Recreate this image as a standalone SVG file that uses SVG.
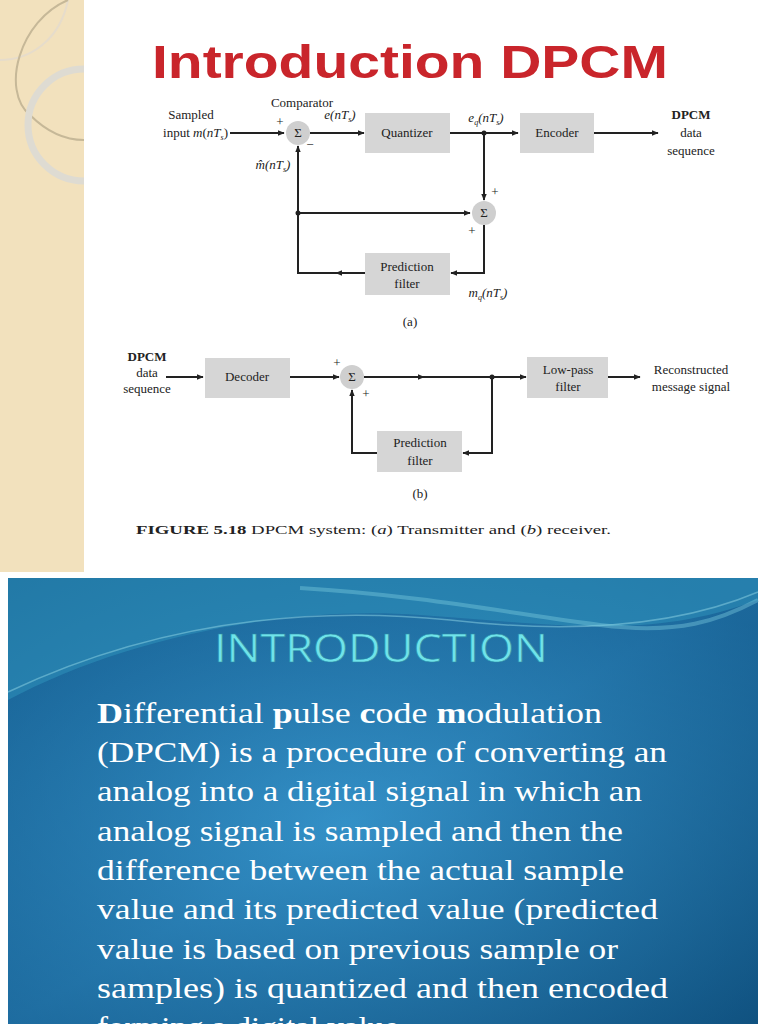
<svg xmlns="http://www.w3.org/2000/svg" width="768" height="1024" viewBox="0 0 768 1024">
<defs>
<marker id="ah" viewBox="0 0 10 10" refX="9" refY="5" markerWidth="7" markerHeight="7" orient="auto" markerUnits="userSpaceOnUse"><path d="M0,1 L10,5 L0,9 z" fill="#222"/></marker>
<linearGradient id="bg" x1="0" y1="0" x2="1" y2="1"><stop offset="0" stop-color="#1b6fa6"/><stop offset="0.5" stop-color="#2a86bf"/><stop offset="1" stop-color="#125887"/></linearGradient>
<radialGradient id="rg" cx="0.45" cy="0.55" r="0.7"><stop offset="0" stop-color="#3a97cc" stop-opacity="0.6"/><stop offset="1" stop-color="#0e4c7a" stop-opacity="0.5"/></radialGradient>
<clipPath id="strip"><rect x="0" y="0" width="84" height="572"/></clipPath>
<style>
.t{font-family:"Liberation Serif",serif;fill:#222;font-size:13px}
.c{text-anchor:middle}
.box{fill:#d6d6d6}
.sum{fill:#cfcfcf}
.ln{stroke:#222;stroke-width:2;fill:none}
.b{font-family:"Liberation Serif",serif;fill:#fff;font-size:30px}
</style>
</defs>
<rect width="768" height="1024" fill="#fff"/>
<rect x="0" y="0" width="84" height="572" fill="#f2e1bd"/>
<g fill="none" clip-path="url(#strip)">
<path d="M0,60 C30,60 60,40 68,0" stroke="#e6dccb" stroke-width="2"/>
<path d="M68,0 C20,20 0,90 30,115 C50,135 70,140 84,140" stroke="#c6b898" stroke-width="2"/>
<circle cx="84" cy="125" r="56" stroke="#dedbd2" stroke-width="7"/>
</g>
<text x="410" y="78" font-family="Liberation Sans,sans-serif" font-weight="bold" font-size="46" fill="#c9252b" class="c" textLength="516" lengthAdjust="spacingAndGlyphs">Introduction DPCM</text>

<g id="connectors-a">
<path class="ln" d="M230,133 H284" marker-end="url(#ah)"/>
<path class="ln" d="M310,133 H364" marker-end="url(#ah)"/>
<path class="ln" d="M450,133 H518" marker-end="url(#ah)"/>
<path class="ln" d="M594,133 H658" marker-end="url(#ah)"/>
<path class="ln" d="M484,133 V200" marker-end="url(#ah)"/>
<path class="ln" d="M298,213 H470" marker-end="url(#ah)"/>
<path class="ln" d="M484,225 V273 H451" marker-end="url(#ah)"/>
<path class="ln" d="M365,273 H298 V146" marker-end="url(#ah)"/>
<path class="ln" d="M345,273 H336" marker-end="url(#ah)"/>
<circle cx="484" cy="133" r="2.5" fill="#222"/>
<circle cx="298" cy="213" r="2.5" fill="#222"/>
</g>
<g id="sum1"><circle class="sum" cx="298" cy="133" r="12"/><text class="t c" x="298" y="137">Σ</text></g>
<g id="quantizer"><rect class="box" x="365" y="113" width="85" height="40"/><text class="t c" x="407" y="137">Quantizer</text></g>
<g id="encoder"><rect class="box" x="520" y="113" width="74" height="40"/><text class="t c" x="557" y="137">Encoder</text></g>
<g id="sum2"><circle class="sum" cx="484" cy="213" r="12"/><text class="t c" x="484" y="217">Σ</text></g>
<g id="pred-a"><rect class="box" x="365" y="253" width="85" height="42"/><text class="t c" x="407" y="271">Prediction</text><text class="t c" x="407" y="288">filter</text></g>
<g id="labels-a">
<text class="t c" x="191" y="119">Sampled</text>
<text class="t" x="228" y="137" text-anchor="end">input <tspan font-style="italic">m</tspan>(<tspan font-style="italic">nT<tspan font-size="8" dy="3">s</tspan></tspan><tspan dy="-3">)</tspan></text>
<text class="t c" x="302" y="107">Comparator</text>
<text class="t c" x="280" y="126">+</text>
<text class="t c" x="310" y="149">−</text>
<text class="t c" x="340" y="119" font-style="italic">e(nT<tspan font-size="8" dy="3">s</tspan><tspan dy="-3">)</tspan></text>
<text class="t c" x="486" y="122" font-style="italic">e<tspan font-size="8" dy="3">q</tspan><tspan dy="-3">(nT</tspan><tspan font-size="8" dy="3">s</tspan><tspan dy="-3">)</tspan></text>
<text class="t c" x="691" y="119" font-weight="bold">DPCM</text>
<text class="t c" x="691" y="137">data</text>
<text class="t c" x="691" y="155">sequence</text>
<text class="t c" x="273" y="169" font-style="italic">m̂(nT<tspan font-size="8" dy="3">s</tspan><tspan dy="-3">)</tspan></text>
<text class="t c" x="495" y="196">+</text>
<text class="t c" x="472" y="235">+</text>
<text class="t c" x="488" y="297" font-style="italic">m<tspan font-size="8" dy="3">q</tspan><tspan dy="-3">(nT</tspan><tspan font-size="8" dy="3">s</tspan><tspan dy="-3">)</tspan></text>
<text class="t c" x="410" y="326">(a)</text>
</g>

<g id="connectors-b">
<path class="ln" d="M166,377 H203" marker-end="url(#ah)"/>
<path class="ln" d="M290,377 H339" marker-end="url(#ah)"/>
<path class="ln" d="M364,377 H526" marker-end="url(#ah)"/>
<path class="ln" d="M410,377 H424" marker-end="url(#ah)"/>
<path class="ln" d="M608,377 H640" marker-end="url(#ah)"/>
<path class="ln" d="M492,377 V453 H463" marker-end="url(#ah)"/>
<path class="ln" d="M377,453 H352 V390" marker-end="url(#ah)"/>
<circle cx="492" cy="377" r="2.5" fill="#222"/>
</g>
<g id="decoder"><rect class="box" x="205" y="358" width="85" height="40"/><text class="t c" x="247" y="381">Decoder</text></g>
<g id="sum3"><circle class="sum" cx="352" cy="377" r="12"/><text class="t c" x="352" y="381">Σ</text></g>
<g id="lowpass"><rect class="box" x="527" y="357" width="81" height="41"/><text class="t c" x="568" y="374">Low-pass</text><text class="t c" x="568" y="391">filter</text></g>
<g id="pred-b"><rect class="box" x="377" y="431" width="85" height="41"/><text class="t c" x="420" y="447">Prediction</text><text class="t c" x="420" y="465">filter</text></g>
<g id="labels-b">
<text class="t c" x="147" y="361" font-weight="bold">DPCM</text>
<text class="t c" x="147" y="377">data</text>
<text class="t c" x="147" y="393">sequence</text>
<text class="t c" x="337" y="367">+</text>
<text class="t c" x="366" y="398">+</text>
<text class="t c" x="691" y="374">Reconstructed</text>
<text class="t c" x="691" y="391">message signal</text>
<text class="t c" x="420" y="498">(b)</text>
<text class="t" x="136" y="534" font-size="13" textLength="475" lengthAdjust="spacingAndGlyphs"><tspan font-weight="bold">FIGURE 5.18</tspan>   DPCM system: (<tspan font-style="italic">a</tspan>) Transmitter and (<tspan font-style="italic">b</tspan>) receiver.</text>
</g>

<rect x="8" y="578" width="750" height="446" fill="url(#bg)"/>
<rect x="8" y="578" width="750" height="446" fill="url(#rg)"/>
<path d="M8,700 C120,640 280,605 420,615 C560,625 650,640 758,600 L758,578 L8,578 z" fill="#2f95bd" opacity="0.5"/>
<path d="M8,692 C150,625 300,605 450,620 C580,635 680,625 758,592" stroke="#8fd6e6" stroke-width="1.5" fill="none" opacity="0.5"/>
<path d="M300,588 C420,595 520,615 600,625 C680,635 720,620 758,600" stroke="#7fcfe0" stroke-width="4" fill="none" opacity="0.4"/>
<text x="381" y="662" font-family="Open Sans,sans-serif" font-size="38" fill="#6fe3ea" stroke="#2a8ca5" stroke-width="0.6" class="c" textLength="334" lengthAdjust="spacingAndGlyphs">INTRODUCTION</text>
<g>
<text class="b" x="97" y="723" textLength="505" lengthAdjust="spacingAndGlyphs"><tspan font-weight="bold">D</tspan>ifferential <tspan font-weight="bold">p</tspan>ulse <tspan font-weight="bold">c</tspan>ode <tspan font-weight="bold">m</tspan>odulation</text>
<text class="b" x="97" y="762" textLength="570" lengthAdjust="spacingAndGlyphs">(DPCM) is a procedure of converting an</text>
<text class="b" x="97" y="801" textLength="545" lengthAdjust="spacingAndGlyphs">analog into a digital signal in which an</text>
<text class="b" x="97" y="841" textLength="526" lengthAdjust="spacingAndGlyphs">analog signal is sampled and then the</text>
<text class="b" x="97" y="880" textLength="527" lengthAdjust="spacingAndGlyphs">difference between the actual sample</text>
<text class="b" x="97" y="919" textLength="561" lengthAdjust="spacingAndGlyphs">value and its predicted value (predicted</text>
<text class="b" x="97" y="959" textLength="521" lengthAdjust="spacingAndGlyphs">value is based on previous sample or</text>
<text class="b" x="97" y="998" textLength="571" lengthAdjust="spacingAndGlyphs">samples) is quantized and then encoded</text>
<text class="b" x="97" y="1037" textLength="310" lengthAdjust="spacingAndGlyphs">forming a digital value.</text>
</g>
</svg>
